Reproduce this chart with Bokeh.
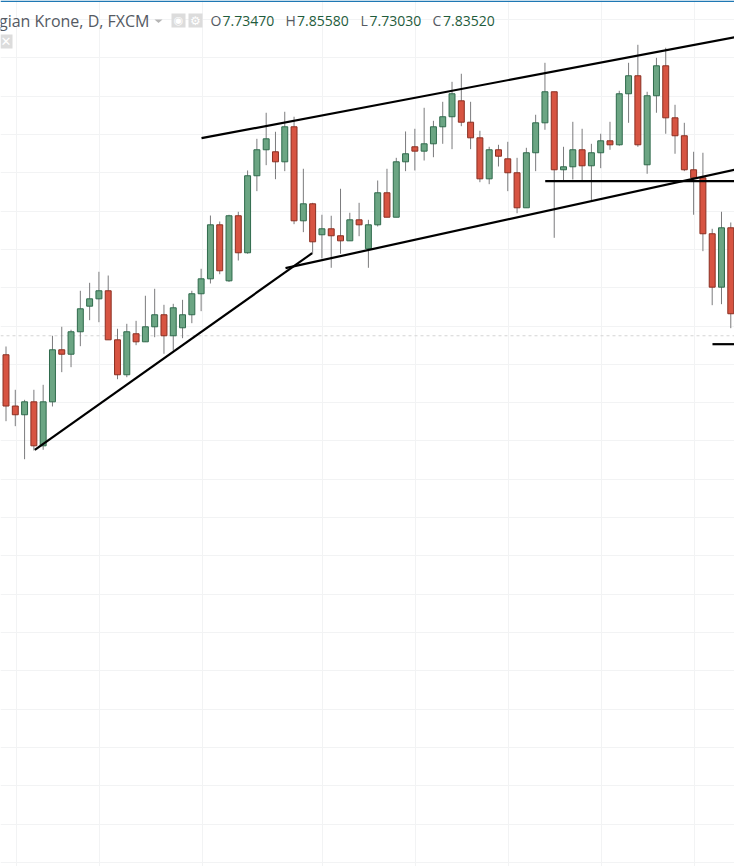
from bokeh.plotting import figure
from bokeh.models import Range1d, Grid, FixedTicker, Label, ColumnDataSource
from bokeh.embed import file_html
from bokeh.resources import INLINE

# price data (USD/NOK daily candles)
highs = [7.8243,7.7678,7.7547,7.7678,7.7743,7.8383,7.8500,7.8461,7.8970,7.9074,7.9218,7.9169,7.8474,7.8539,7.8578,7.8905,7.8996,7.8787,7.8800,7.8852,
         7.8970,7.9257,7.9952,7.9874,7.9962,8.0001,8.0540,8.0953,8.1293,8.1045,8.1306,8.1241,8.0562,8.0118,7.9962,7.9949,8.0301,7.9988,8.0118,7.9896,
         8.0409,8.0562,8.0705,8.1049,8.1084,8.1358,8.1188,8.1436,8.1697,8.1802,8.1436,8.1058,8.0849,8.0875,8.0914,8.0705,8.0836,8.1267,8.1945,8.1567,
         8.0849,8.1175,8.1084,8.0888,8.1019,8.1175,8.1580,8.1945,8.2180,8.1567,8.2010,8.2141,8.1397,8.1162,8.0784,8.0771,7.9779,8.0001,7.9861]
lows = [7.7268,7.7203,7.6772,7.6886,7.6895,7.7460,7.7908,7.7973,7.8247,7.8586,7.8560,7.8330,7.7816,7.7842,7.8260,7.8304,7.8364,7.8148,7.8191,7.8351,
        7.8547,7.8704,7.9065,7.9186,7.9085,7.9365,7.9453,8.0270,8.0609,8.0426,8.0531,7.9839,7.9735,7.9457,7.9391,7.9270,7.9453,7.9622,7.9682,7.9270,
        7.9809,7.9930,7.9930,8.0531,8.0540,8.0670,8.0713,8.0888,8.0818,8.1118,8.0818,8.0387,8.0361,8.0592,8.0270,7.9982,8.0053,8.0531,8.1071,7.9661,
        8.0409,8.0422,8.0409,8.0148,8.0570,8.0810,8.0862,8.1162,8.0849,8.0497,8.1293,8.1019,8.0758,8.0531,7.9962,7.9487,7.8782,7.8795,7.8482]
tops = [7.8135,7.7466,7.7521,7.7521,7.7521,7.8200,7.8200,7.8435,7.8735,7.8865,7.8970,7.8970,7.8330,7.8435,7.8409,7.8500,7.8657,7.8657,7.8748,7.8657,
        7.8931,7.9126,7.9831,7.9831,7.9949,7.9949,8.0471,8.0810,8.0953,8.0784,8.1110,8.1110,8.0105,8.0105,7.9779,7.9779,7.9688,7.9896,7.9896,7.9831,
        8.0249,8.0249,8.0653,8.0758,8.0849,8.0888,8.1110,8.1241,8.1541,8.1449,8.1170,8.0966,8.0810,8.0810,8.0692,8.0510,8.0771,8.1162,8.1567,8.1567,
        8.0588,8.0810,8.0810,8.0771,8.0927,8.0927,8.1541,8.1776,8.1776,8.1515,8.1906,8.1906,8.1227,8.0993,8.0549,8.0444,7.9714,7.9792,7.9792]
bottoms = [7.7466,7.7352,7.7352,7.6947,7.6947,7.7521,7.8142,7.8142,7.8435,7.8769,7.8865,7.8330,7.7874,7.7874,7.8304,7.8304,7.8500,7.8383,7.8383,7.8487,
           7.8657,7.8931,7.9126,7.9231,7.9100,7.9466,7.9466,8.0471,8.0810,8.0653,8.0653,7.9883,7.9883,7.9609,7.9701,7.9688,7.9622,7.9622,7.9831,7.9518,
           7.9831,7.9930,7.9930,8.0653,8.0792,8.0792,8.0888,8.1110,8.1241,8.1170,8.0966,8.0431,8.0431,8.0726,8.0510,8.0053,8.0053,8.0771,8.1162,8.0549,
           8.0549,8.0588,8.0601,8.0601,8.0771,8.0875,8.0875,8.1541,8.0875,8.0614,8.1515,8.1227,8.0993,8.0549,8.0444,7.9714,7.9017,7.9017,7.8670]
up = [0,0,1,0,1,1,0,1,1,1,1,0,0,1,0,1,1,0,1,1,
      1,1,1,0,1,0,1,1,1,0,1,0,1,0,1,0,0,1,0,1,
      1,0,1,1,0,1,1,1,1,0,0,0,1,0,0,0,1,1,1,0,
      1,1,0,1,1,0,1,1,0,1,1,0,0,0,0,0,0,1,0]

# trend lines drawn on the chart: (bar index, price)
rise_x, rise_y = [3.10, 32.95], [7.6895, 7.9460]
lower_x, lower_y = [30.08, 78.4], [7.9265, 8.0549]
upper_x, upper_y = [21.04, 78.4], [8.0961, 8.2279]
support_x, support_y = [58.03, 78.4], [8.0400, 8.0400]
stub_x, stub_y = [76.03, 78.4], [7.8273, 7.8273]
last_price = 7.8383

price_grid = [7.151, 7.201, 7.251, 7.301, 7.351, 7.401, 7.451, 7.501, 7.551, 7.601, 7.651, 7.701, 7.751, 7.801,
              7.851, 7.901, 7.951, 8.001, 8.051, 8.101, 8.151, 8.201, 8.251]
time_grid = [1.15, 10.07, 21.1, 34.06, 44.1, 54.08, 64.1, 74.1]

X0, X1 = -0.592, 78.4
Y0, Y1 = 7.1457, 8.2758
W, H = 734, 866

def sx(px):
    return X0 + (X1 - X0) * px / W

def sy(py):
    return Y1 - (Y1 - Y0) * py / H

p = figure(width=W, height=H, x_range=Range1d(X0, X1), y_range=Range1d(Y0, Y1),
           x_axis_location=None, y_axis_location=None, toolbar_location=None,
           output_backend="svg", min_border=0, outline_line_color=None,
           background_fill_color="white", border_fill_color="white")
p.styles = {"position": "absolute", "left": "0px", "top": "0px"}
p.grid.visible = False
GRID = "#f2f3f4"
p.add_layout(Grid(dimension=1, ticker=FixedTicker(ticks=price_grid), grid_line_color=GRID, grid_line_width=1))
p.add_layout(Grid(dimension=0, ticker=FixedTicker(ticks=time_grid), grid_line_color=GRID, grid_line_width=1))

p.line([X0, X1], [last_price, last_price], line_color="#d4d4d4", line_width=1, line_dash="3 3")

src = ColumnDataSource(dict(
    x=list(range(len(up))), h=highs, l=lows, t=tops, b=bottoms,
    fill=["#6ba583" if u else "#d75442" for u in up],
    edge=["#2f6a4c" if u else "#8a2f22" for u in up],
))
p.segment("x", "h", "x", "l", source=src, line_color="#7b7b7d", line_width=1)
p.vbar(x="x", top="t", bottom="b", width=0.64, source=src, fill_color="fill", line_color="edge", line_width=1)

for xs, ys in [(rise_x, rise_y), (lower_x, lower_y), (upper_x, upper_y), (support_x, support_y), (stub_x, stub_y)]:
    p.line(xs, ys, line_color="black", line_width=2.2)

# top bar and legend chrome
p.quad(left=[sx(0)], right=[sx(734)], top=[sy(0)], bottom=[sy(1.5)], fill_color="#1f78b4", line_color=None)
p.quad(left=[sx(171), sx(188), sx(0)], right=[sx(185), sx(202), sx(12)], top=[sy(13), sy(13), sy(34)],
       bottom=[sy(27), sy(27), sy(48)], fill_color="#dcdcdc", line_color=None)
p.patch([sx(154), sx(162), sx(158)], [sy(19), sy(19), sy(22.5)], fill_color="#b5b5b5", line_color=None)

FONT = "Open Sans"
p.add_layout(Label(x=sx(149), y=sy(20), text="gian Krone, D, FXCM", text_align="right", text_baseline="alphabetic",
                   text_font=FONT, text_font_size="16px", text_color="#555a63"))
p.add_layout(Label(x=sx(178), y=sy(20), text="◉", text_align="center", text_baseline="middle", text_font_size="11px",
                   text_color="#ffffff", text_font="DejaVu Sans"))
p.add_layout(Label(x=sx(195), y=sy(20), text="⚙", text_align="center", text_baseline="middle", text_font_size="12px",
                   text_color="#ffffff", text_font="DejaVu Sans"))
p.add_layout(Label(x=sx(5.5), y=sy(41), text="✕", text_align="center", text_baseline="middle", text_font_size="13px",
                   text_color="#ffffff", text_font="DejaVu Sans"))

for letter, val, lx, vx in [("O", "7.73470", 210, 222), ("H", "7.85580", 285, 296.5), ("L", "7.73030", 360, 369), ("C", "7.83520", 432, 442.5)]:
    p.add_layout(Label(x=sx(lx), y=sy(20), text=letter, text_baseline="alphabetic", text_font=FONT,
                       text_font_size="14px", text_color="#555a63"))
    p.add_layout(Label(x=sx(vx), y=sy(20), text=val, text_baseline="alphabetic", text_font=FONT,
                       text_font_size="14px", text_color="#1f5c3c"))

open("out.html", "w").write(file_html(p, INLINE))
